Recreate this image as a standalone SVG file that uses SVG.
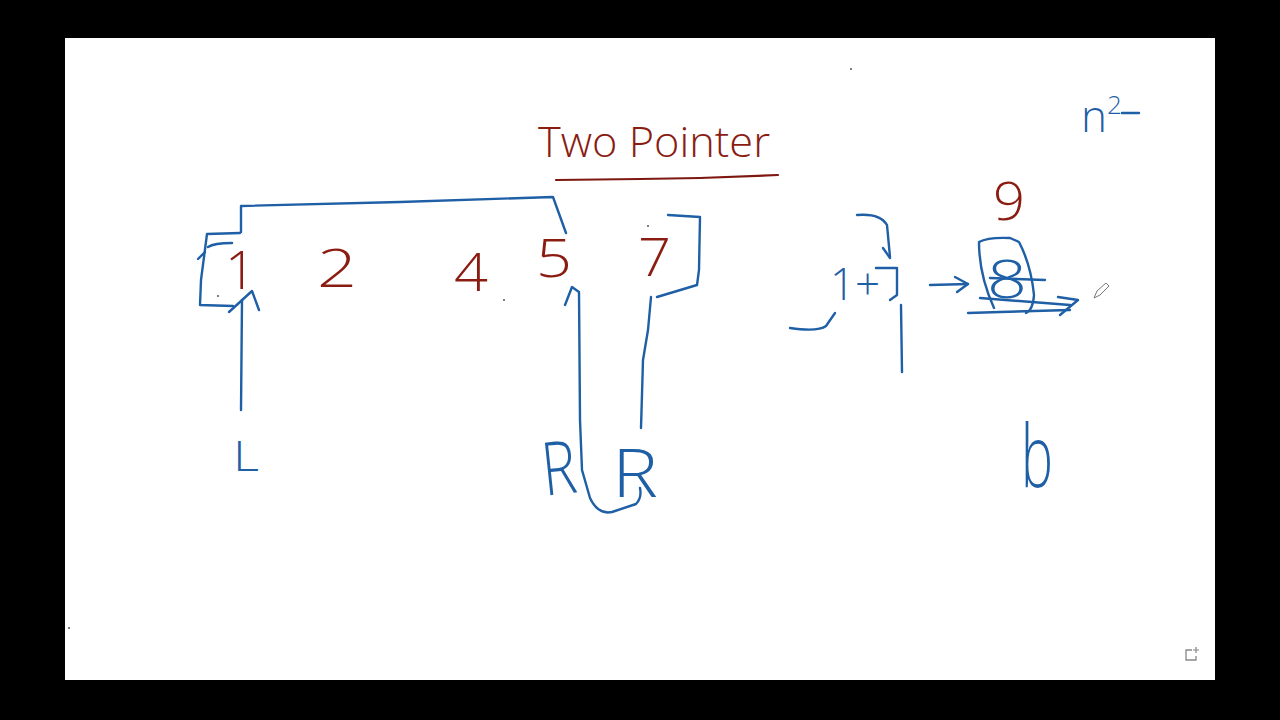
<svg xmlns="http://www.w3.org/2000/svg" width="1280" height="720" viewBox="0 0 1280 720">
<style>
.b{fill:none;stroke:#1f5fa6;stroke-width:2.4;stroke-linecap:round;stroke-linejoin:round}
.r{fill:none;stroke:#7d1710;stroke-width:2.2;stroke-linecap:round}
.tr{font-family:"Open Sans","DejaVu Sans",sans-serif;font-weight:300;fill:#8a1c12}
.tb{font-family:"Open Sans","DejaVu Sans",sans-serif;font-weight:300;fill:#1f5fa6}
.dot{fill:#555}
</style>
<rect x="0" y="0" width="1280" height="720" fill="#000"/>
<rect x="65" y="38" width="1150" height="642" fill="#fff"/>

<g id="title">
<text class="tr" x="538" y="157" font-size="42" textLength="232" lengthAdjust="spacingAndGlyphs">Two Pointer</text>
<path class="r" d="M556 180 L640 179 L700 178 L778 175"/>
</g>

<g id="numbers">
<text class="tr" x="225" y="289" font-size="54">1</text>
<text class="tr" x="317" y="287" font-size="54" textLength="40" lengthAdjust="spacingAndGlyphs">2</text>
<text class="tr" x="454" y="291" font-size="54" textLength="34" lengthAdjust="spacingAndGlyphs">4</text>
<text class="tr" x="536" y="277" font-size="54" textLength="36" lengthAdjust="spacingAndGlyphs">5</text>
<text class="tr" x="638" y="276" font-size="54" textLength="33" lengthAdjust="spacingAndGlyphs">7</text>
<text class="tr" x="993" y="220" font-size="54" textLength="32" lengthAdjust="spacingAndGlyphs">9</text>
</g>

<g id="labels">
<text class="tb" x="1081" y="132" font-size="44">n<tspan font-size="26" dy="-18">2</tspan></text>
<path class="b" d="M1122 113 L1139 113"/>
<text class="tb" x="233" y="471" font-size="42" textLength="26" lengthAdjust="spacingAndGlyphs">L</text>
<text class="tb" x="541" y="494" font-size="74" textLength="34" lengthAdjust="spacingAndGlyphs" transform="rotate(-6 560 460)">R</text>
<text class="tb" x="612" y="497" font-size="66" textLength="46" lengthAdjust="spacingAndGlyphs">R</text>
<text class="tb" x="1021" y="487" font-size="86" textLength="32" lengthAdjust="spacingAndGlyphs">b</text>
<text class="tb" x="830" y="300" font-size="44">1+</text>
<text class="tb" x="987" y="298" font-size="54" textLength="40" lengthAdjust="spacingAndGlyphs">8</text>
</g>

<g id="connectors">
<path class="b" d="M241 232 L241 206 L400 202 L553 197 L566 233"/>
<path class="b" d="M240 233 L207 234 L201 280 L200 305 L233 306"/>
<path class="b" d="M208 247 Q214 243 232 243"/>
<path class="b" d="M198 259 L205 252"/>
<path class="b" d="M241 410 L242 300"/>
<path class="b" d="M229 312 L252 291 L259 310"/>
<path class="b" d="M565 305 L572 287 L579 292 L580 420 L582 470 L590 498 Q598 515 612 512 L636 504 Q642 498 640 488"/>
<path class="b" d="M668 215 L700 217 L699 270 L697 285 L657 297"/>
<path class="b" d="M651 297 L648 330 L643 360 L641 428"/>
<path class="b" d="M857 215 Q880 213 887 225 L890 257"/>
<path class="b" d="M883 248 L890 258"/>
<path class="b" d="M876 268 L897 268 L897 295 L890 300"/>
<path class="b" d="M901 305 L902 372"/>
<path class="b" d="M790 328 Q818 332 826 326 L835 313"/>
<path class="b" d="M930 285 L968 284"/>
<path class="b" d="M955 277 L968 284 L957 292"/>
<path class="b" d="M994 308 Q979 275 979 242 Q988 237 1010 238 L1019 242 Q1031 265 1034 295 Q1033 310 1026 313"/>
<path class="b" d="M990 278 L1045 280"/>
<path class="b" d="M980 298 L1070 305"/>
<path class="b" d="M968 313 L1000 312 L1070 310"/>
<path class="b" d="M1058 297 L1078 300 L1060 315"/>
</g>

<g id="icons">
<path d="M1094 298 L1097 291 L1106 283 L1109 286 L1100 295 Z" fill="none" stroke="#777" stroke-width="1"/>
<path d="M1192 650 L1186 650 L1186 660 L1196 660 L1196 656" fill="none" stroke="#888" stroke-width="1.3"/>
<path d="M1196 647 L1196 653 M1193 650 L1199 650" fill="none" stroke="#888" stroke-width="1.2"/>
<circle class="dot" cx="851" cy="69" r="1"/>
<circle class="dot" cx="218" cy="296" r="1"/>
<circle class="dot" cx="504" cy="300" r="1"/>
<circle class="dot" cx="648" cy="226" r="1"/>
<circle class="dot" cx="69" cy="628" r="1"/>
</g>
</svg>
